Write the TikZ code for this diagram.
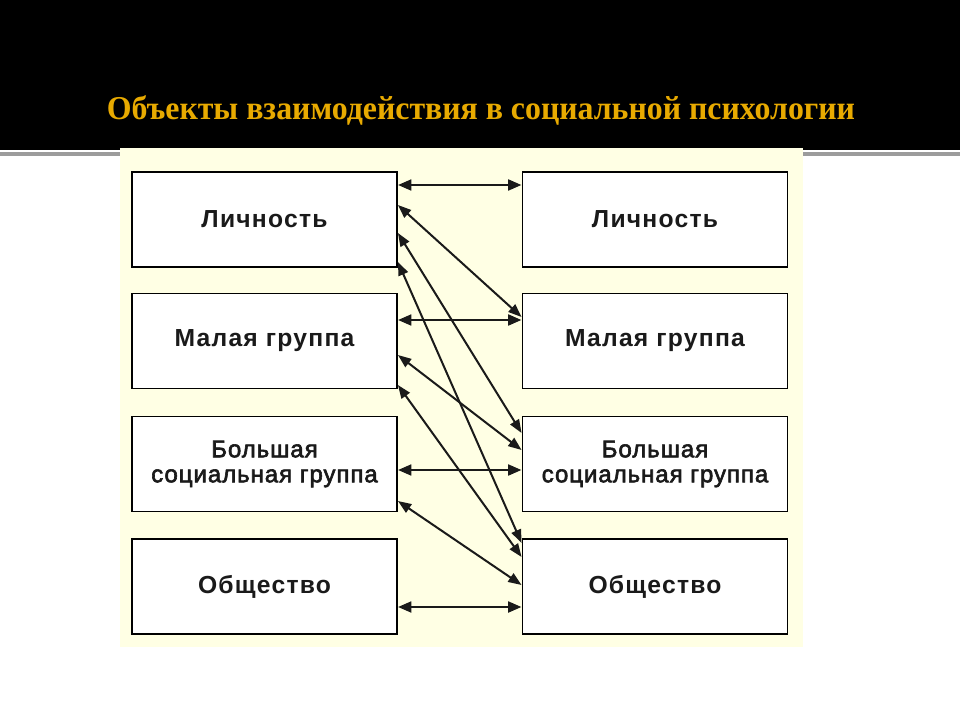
\documentclass[tikz,border=0pt]{standalone}
\usepackage{fontspec}
\setmainfont{Liberation Sans}
\newfontfamily\titlefont{Liberation Serif}[FakeStretch=0.955]
\newfontfamily\boxfont{Liberation Sans}[LetterSpace=5]
\newfontfamily\medfont{Liberation Sans}[LetterSpace=4,FakeBold=2.5]
\usetikzlibrary{arrows.meta,calc}
\definecolor{cream}{HTML}{FFFFE4}
\definecolor{gold}{HTML}{E8AA00}
\definecolor{rulegray}{HTML}{9C9C9C}
\definecolor{ink}{HTML}{1A1A1A}
\tikzset{
  objbox/.style={draw=black, line width=1.4pt, fill=white, inner sep=0pt,
    minimum width=198.75pt, minimum height=71.25pt, align=center, text=ink,
    font=\boxfont\bfseries\fontsize{18.5}{18.75}\selectfont},
  medbox/.style={objbox, font=\medfont\fontsize{18}{18.75}\selectfont},
  harrow/.style={{Triangle[length=10pt,width=8pt]}-{Triangle[length=10pt,width=8pt]}, line width=2pt, draw=ink},
  darrow/.style={{Triangle[length=10pt,width=7.5pt]}-{Triangle[length=10pt,width=7.5pt]}, line width=1.5pt, draw=ink}
}
\begin{document}
\begin{tikzpicture}[x=0.75pt,y=-0.75pt]
\useasboundingbox (0,0) rectangle (960,720);
\fill[white] (0,0) rectangle (960,720);
\fill[black] (0,0) rectangle (960,150);
\fill[rulegray] (0,152) rectangle (960,156);
\fill[cream] (120,148) rectangle (803,647);
\node[font=\titlefont\bfseries\fontsize{25}{30}\selectfont, text=gold, anchor=base, inner sep=0pt] (title) at (481,120) {Объекты взаимодействия в социальной психологии};
% left column
\node[objbox] (L1) at (264.5,219.5) {Личность};
\node[objbox] (L2) at (264.5,341) {Малая группа};
\node[medbox] (L3) at (264.5,464) {Большая\\социальная группа};
\node[objbox] (L4) at (264.5,586.5) {Общество};
% right column
\node[objbox] (R1) at (655,219.5) {Личность};
\node[objbox] (R2) at (655,341) {Малая группа};
\node[medbox] (R3) at (655,464) {Большая\\социальная группа};
\node[objbox] (R4) at (655,586.5) {Общество};
% horizontal links
\draw[harrow] (L1.east |- 0,185) -- (R1.west |- 0,185);
\draw[harrow] (L2.east |- 0,320) -- (R2.west |- 0,320);
\draw[harrow] (L3.east |- 0,470) -- (R3.west |- 0,470);
\draw[harrow] (L4.east |- 0,607) -- (R4.west |- 0,607);
% diagonal links
\draw[darrow] (L1.east |- 0,205) -- (R2.west |- 0,317);
\draw[darrow] (L1.east |- 0,233) -- (R3.west |- 0,433);
\draw[darrow] (L1.east |- 0,262) -- (R4.west |- 0,543);
\draw[darrow] (L2.east |- 0,355) -- (R3.west |- 0,450);
\draw[darrow] (L2.east |- 0,385) -- (R4.west |- 0,557);
\draw[darrow] (L3.east |- 0,501) -- (R4.west |- 0,585);
\end{tikzpicture}
\end{document}
